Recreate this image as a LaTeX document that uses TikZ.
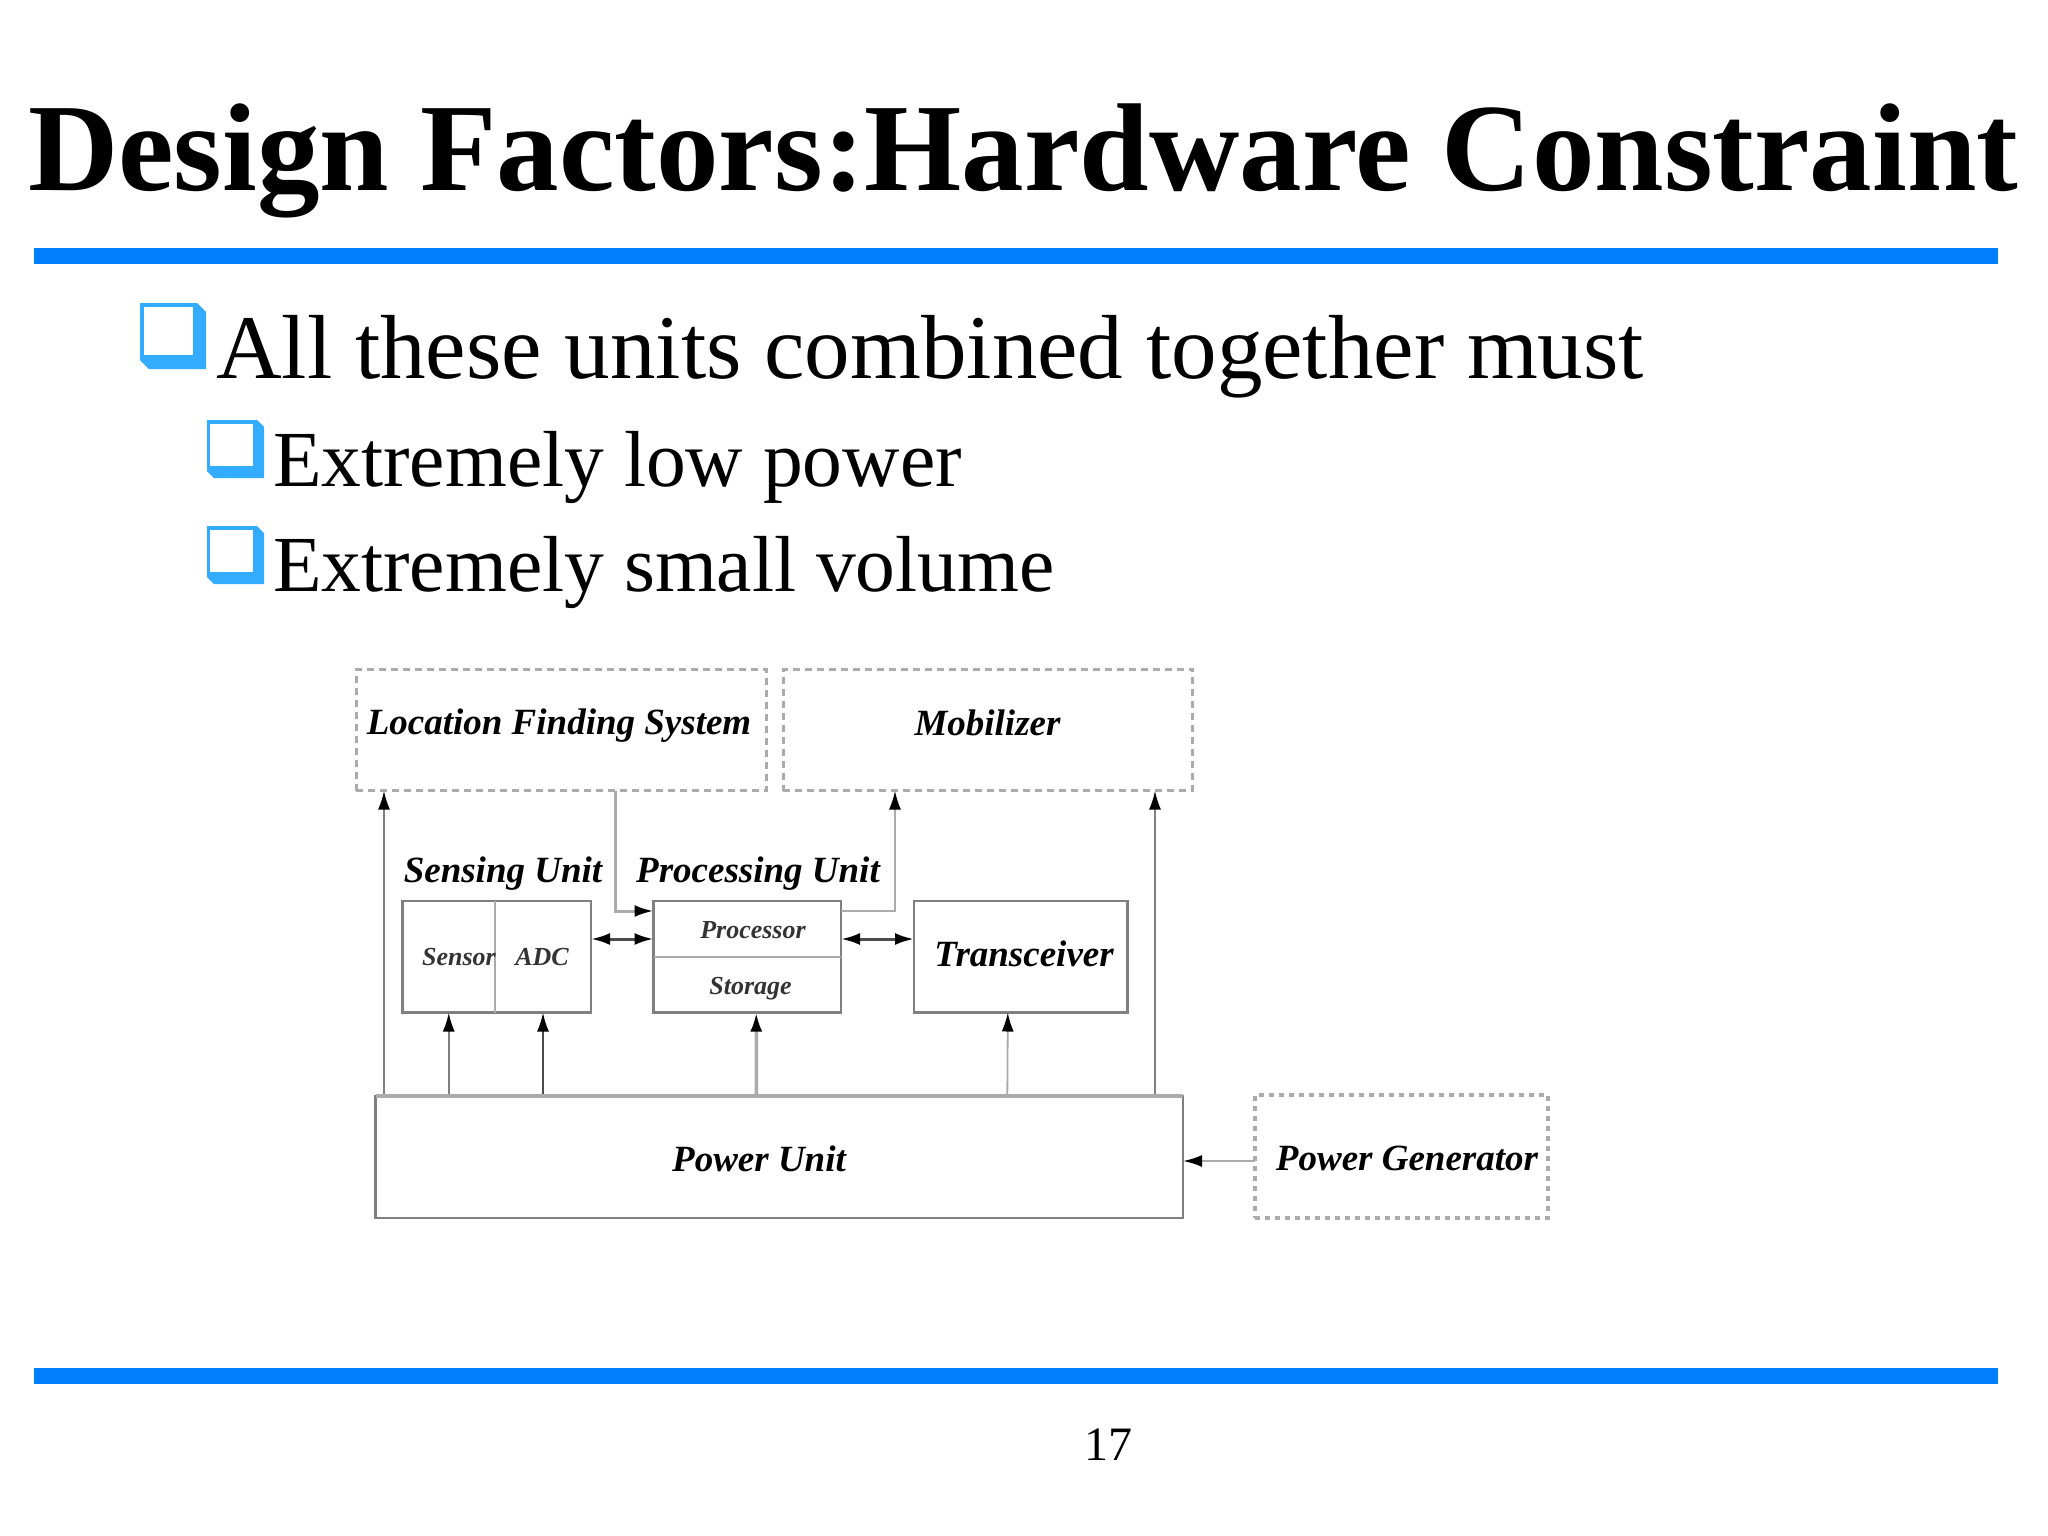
\documentclass[tikz,border=0pt]{standalone}
\usepackage{fontspec}
\setmainfont{Liberation Serif}
\usetikzlibrary{arrows.meta,calc}
\definecolor{rulecol}{HTML}{0080FF}
\definecolor{bulcol}{HTML}{33ABFF}
\definecolor{boxgray}{HTML}{808080}
\definecolor{dashgray}{HTML}{ABABAB}
\tikzset{
  x=1pt,y=-1pt,
  lbl/.style={inner sep=0pt,outer sep=0pt,font=\fontsize{37}{40}\selectfont\bfseries\itshape,text=black},
  small/.style={inner sep=0pt,outer sep=0pt,font=\fontsize{26}{28}\selectfont\bfseries\itshape,text=black!80},
  solidbox/.style={draw=boxgray,line width=2.5pt,inner sep=0pt,outer sep=0pt,fill=none},
  dashbox/.style={draw=dashgray,line width=3pt,dash pattern=on 7pt off 5pt,inner sep=0pt,outer sep=0pt},
  dotbox/.style={draw=dashgray,line width=3.5pt,dash pattern=on 5pt off 5pt,inner sep=0pt,outer sep=0pt},
  divider/.style={draw=dashgray,line width=2pt},
  conn/.style={draw=#1,line width=2.2pt},
  conn/.default=boxgray,
  head/.style={-{Latex[length=19pt,width=12pt,black]}},
  twohead/.style={{Latex[length=19pt,width=12pt,black]}-{Latex[length=19pt,width=12pt,black]},draw=black!70,line width=3pt},
  textline/.style={anchor=base west,inner sep=0pt,outer sep=0pt,text=black},
}
\begin{document}
\begin{tikzpicture}
\useasboundingbox (0,0) rectangle (2048,1536);
\fill[white] (0,0) rectangle (2048,1536);

% title and rules
\node[textline,font=\fontsize{125}{130}\selectfont\bfseries] (title) at (28,190) {Design Factors:Hardware Constraint};
\fill[rulecol] (34,248) rectangle (1998,264);
\fill[rulecol] (34,1368) rectangle (1998,1384);
\node[textline,font=\fontsize{48}{52}\selectfont] (pagenum) at (1084.5,1460) {17};

% bullets
\fill[bulcol] (140,303) -- (197,303) -- (206,312) -- (206,369) -- (149,369) -- (140,360) -- cycle;
\fill[white] (144,307) rectangle (193,355);
\fill[bulcol] (207,420) -- (257,420) -- (264,427) -- (264,478) -- (214,478) -- (207,471) -- cycle;
\fill[white] (210,424) rectangle (253,466);
\fill[bulcol] (207,526) -- (257,526) -- (264,533) -- (264,584) -- (214,584) -- (207,577) -- cycle;
\fill[white] (210,530) rectangle (253,572);

\node[textline,font=\fontsize{91}{96}\selectfont] (b1) at (216,378) {All these units combined together must};
\node[textline,font=\fontsize{79.5}{84}\selectfont] (b2) at (273,486) {Extremely low power};
\node[textline,font=\fontsize{79.5}{84}\selectfont] (b3) at (273,591) {Extremely small volume};

% diagram boxes
\node[dashbox,minimum width=410pt,minimum height=121.5pt] (loc) at (561,729.75) {};
\node[dashbox,minimum width=409.5pt,minimum height=121.5pt] (mob) at (987.75,729.75) {};
\node[lbl] at (559,726) {Location Finding System};
\node[lbl] at (987.5,722.5) {Mobilizer};

\node[lbl] (senslabel) at (503,874) {Sensing Unit};
\node[lbl] (proclabel) at (758,874) {Processing Unit};

\node[solidbox,minimum width=92.5pt,minimum height=111.5pt] (sensor) at (448.75,956.75) {};
\node[solidbox,minimum width=96pt,minimum height=111.5pt] (adc) at (543,956.75) {};
\node[solidbox,minimum width=187.5pt,minimum height=56pt] (processor) at (747.25,929) {};
\node[solidbox,minimum width=187.5pt,minimum height=55.5pt] (storage) at (747.25,984.75) {};
\node[solidbox,minimum width=213.6pt,minimum height=111.5pt] (trans) at (1020.8,956.75) {};
\node[solidbox,minimum width=807.4pt,minimum height=122pt] (pu) at (779.3,1157) {};
\node[dotbox,minimum width=293pt,minimum height=123pt] (pg) at (1401.5,1156.5) {};
\draw[divider] (adc.north west) -- (adc.south west);
\draw[divider] (processor.south west) -- (processor.south east);

\node[small] at (459,957.5) {Sensor};
\node[small] at (542,957.5) {ADC};
\node[small] at (753,930.5) {Processor};
\node[small] at (750.5,989) {Storage};
\node[lbl] at (1024,954) {Transceiver};
\node[lbl] at (759,1158.5) {Power Unit};
\node[lbl] at (1407,1158.5) {Power Generator};

% connectors
\draw[conn,head] ($(pu.north west)+(8.4,0)$) -- ($(loc.south west)+(28,0)$);
\draw[conn,head] ($(pu.north east)+(-28,0)$) -- ($(mob.south east)+(-37.5,0)$);
\draw[conn=dashgray,line width=3pt,head] ($(loc.south west)+(259.5,0)$) |- ($(processor.north west)+(0,10)$);
\draw[conn=dashgray,head] ($(processor.north east)+(0,10)$) -| ($(mob.south west)+(112,0)$);
\draw[twohead] (adc.east |- processor.west) ++(0,10) -- ($(processor.west)+(0,10)$);
\draw[twohead] ($(processor.east)+(0,10)$) -- ($(trans.west |- processor.west)+(0,10)$);
\draw[conn,head] (sensor.center |- pu.north) -- (sensor.south);
\draw[conn=black!70,head] (adc.center |- pu.north) -- (adc.south);
\draw[conn=dashgray,line width=3.5pt,head] ($(pu.north)+(-23,0)$) -- ($(storage.south)+(9,0)$);
\draw[conn=dashgray,line width=1.8pt,head] ($(pu.north)+(228,0)$) -- ($(trans.south)+(-13,0)$);
\draw[dashgray,line width=4pt] (pu.north west) -- (pu.north east);
\draw[conn=dashgray,head] ($(pg.west)+(0,4.5)$) -- ($(pu.east |- pg.west)+(0,4.5)$);
\end{tikzpicture}
\end{document}
